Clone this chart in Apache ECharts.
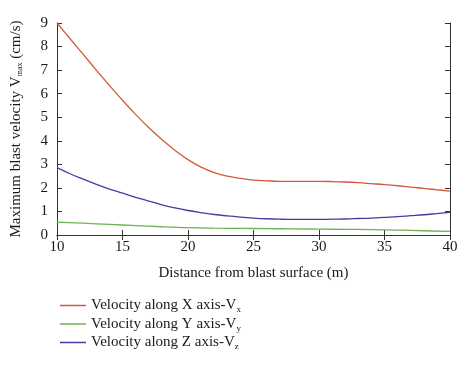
<!DOCTYPE html>
<html><head><meta charset="utf-8">
<script src="https://cdn.jsdelivr.net/npm/echarts@6/dist/echarts.min.js"></script>
<style>html,body{margin:0;padding:0;background:#fff}#c{width:474px;height:366px}</style>
</head><body><div id="c"></div>
<script>
const distXZ = [10,11,12,13,14,15,16,17,18,19,20,21,22,23,24,25,26,27,28,29,30,31,32,33,34,35,36,37,38,39,40];
const velX = [9.0,8.33,7.67,7.0,6.35,5.72,5.12,4.56,4.05,3.6,3.2,2.88,2.65,2.5,2.4,2.33,2.3,2.28,2.28,2.28,2.28,2.27,2.25,2.22,2.18,2.14,2.09,2.03,1.98,1.92,1.86];
const velZ = [2.86,2.6,2.37,2.15,1.95,1.78,1.6,1.44,1.28,1.15,1.04,0.95,0.87,0.81,0.76,0.72,0.69,0.67,0.66,0.66,0.66,0.67,0.68,0.7,0.72,0.75,0.78,0.82,0.86,0.91,0.96];
const distY = [10,12,14,16,18,20,22,24,26,28,30,32,34,36,38,40];
const velY = [0.55,0.5,0.45,0.4,0.35,0.31,0.29,0.28,0.27,0.26,0.25,0.24,0.23,0.21,0.18,0.15];
const seriesNames = ['Velocity along X axis-V','Velocity along Y axis-V','Velocity along Z axis-V'];
const subs = ['x','y','z'];
const xTicks = {min:10, max:40, interval:5};
const yTicks = {min:0, max:9, interval:1};

const font = 'Liberation Serif';
const txt = '#1a1a1a';
const pair = (xs, ys) => xs.map((x,i)=>[x, ys[i]]);
const colors = ['#d6583a','#6db356','#3f3f9f'];

const chart = echarts.init(document.getElementById('c'), null, {renderer:'canvas'});
const axisCommon = {
  axisLine:{show:true, lineStyle:{color:'#333', width:1}},
  axisTick:{show:true, inside:true, length:5, lineStyle:{color:'#333'}},
  splitLine:{show:false}
};
chart.setOption({
  animation:false,
  backgroundColor:'#fff',
  grid:{left:57, right:24, top:23, bottom:131, show:false},
  xAxis:[
    Object.assign({type:'value', position:'bottom', min:xTicks.min, max:xTicks.max, interval:xTicks.interval,
      name:'Distance from blast surface (m)', nameLocation:'middle', nameGap:31,
      nameTextStyle:{fontFamily:font, fontSize:15, color:txt},
      axisLabel:{fontFamily:font, fontSize:15, color:txt, margin:5}}, axisCommon),
    Object.assign({type:'value', position:'top', min:xTicks.min, max:xTicks.max, interval:xTicks.interval,
      axisLabel:{show:false}}, axisCommon)
  ],
  yAxis:[
    Object.assign({type:'value', position:'left', min:yTicks.min, max:yTicks.max, interval:yTicks.interval,
      name:'{a|Maximum blast velocity V}{s|max}{a| (cm/s)}', nameLocation:'middle', nameGap:33,
      nameTextStyle:{fontFamily:font, fontSize:15, color:txt,
        rich:{a:{fontFamily:font, fontSize:15, color:txt}, s:{fontFamily:font, fontSize:8, color:txt, verticalAlign:'bottom', padding:[6,0,0,0]}}},
      axisLabel:{fontFamily:font, fontSize:15, color:txt, margin:9}}, axisCommon),
    Object.assign({type:'value', position:'right', min:yTicks.min, max:yTicks.max, interval:yTicks.interval,
      axisLabel:{show:false}}, axisCommon)
  ],
  legend:{
    orient:'vertical', left:55, top:293, itemWidth:26, itemHeight:1.5, itemGap:2, icon:'rect',
    data: seriesNames.map((n,i)=>({name:n})),
    formatter: function(name){ const i = seriesNames.indexOf(name); return '{a|'+name+'}{s|'+subs[i]+'}'; },
    textStyle:{fontFamily:font, fontSize:15, color:txt,
      rich:{a:{fontFamily:font, fontSize:15, color:txt, lineHeight:18}, s:{fontFamily:font, fontSize:9, color:txt, verticalAlign:'bottom', lineHeight:18, padding:[6,0,0,0]}}}
  },
  series:[
    {name:seriesNames[0], type:'line', data:pair(distXZ, velX), smooth:0.4, symbol:'none', lineStyle:{color:colors[0], width:1.3}, itemStyle:{color:colors[0]}},
    {name:seriesNames[1], type:'line', data:pair(distY, velY), smooth:0.4, symbol:'none', lineStyle:{color:colors[1], width:1.3}, itemStyle:{color:colors[1]}},
    {name:seriesNames[2], type:'line', data:pair(distXZ, velZ), smooth:0.4, symbol:'none', lineStyle:{color:colors[2], width:1.3}, itemStyle:{color:colors[2]}}
  ]
});
</script></body></html>
